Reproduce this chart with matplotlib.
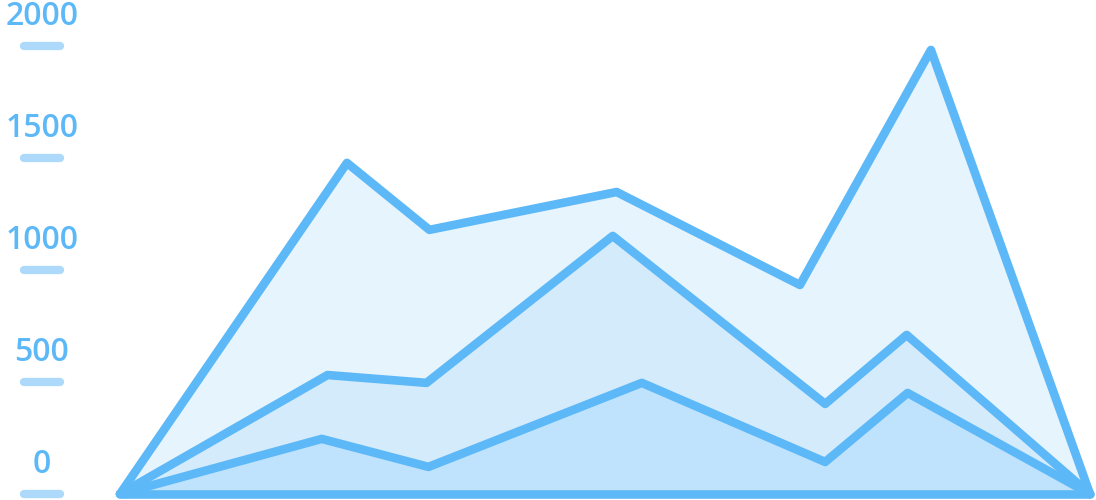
import matplotlib.pyplot as plt

# ------------------- data -------------------
outer_x = [0, 23.4, 31.9, 51.2, 70.1, 83.6, 100]
outer_y = [0, 1478, 1179, 1348, 933, 1982, 0]

middle_x = [0, 21.4, 31.6, 50.8, 72.7, 81.1, 100]
middle_y = [0, 531, 496, 1152, 402, 710, 0]

inner_x = [0, 20.8, 31.8, 53.8, 72.7, 81.2, 100]
inner_y = [0, 246, 121, 496, 143, 451, 0]

y_ticks = [0, 500, 1000, 1500, 2000]

# ------------------- style -------------------
line_color = '#5DB8F8'
fills = ['#E6F4FD', '#D4EBFC', '#BFE3FD']
label_color = '#5DB8F8'
bar_color = '#ADDAFA'

plt.rcParams["font.family"] = ["Open Sans", "DejaVu Sans"]

fig = plt.figure(figsize=(10.96, 5), dpi=100)
ax = fig.add_axes([0, 0, 1, 1])
ax.set_xlim(-12.37, 100.62)
ax.set_ylim(-26.8, 2205)
ax.axis('off')

series = [(outer_x, outer_y), (middle_x, middle_y), (inner_x, inner_y)]
for (xs, ys), fc in zip(series, fills):
    ax.fill_between(xs, ys, 0, color=fc, lw=0, zorder=1)
for xs, ys in series:
    ax.plot(xs, ys, color=line_color, lw=6.2, solid_joinstyle='round',
            solid_capstyle='round', zorder=3)
# baseline
ax.plot([0, 100], [0, 0], color=line_color, lw=6.2, solid_capstyle='round', zorder=3)

# y-axis labels with little bars below them
trans = ax.get_yaxis_transform()
for v in y_ticks:
    ax.plot([0.0219, 0.0547], [v, v], transform=trans, color=bar_color,
            lw=6.0, solid_capstyle='round', clip_on=False)
    ax.annotate(str(v), xy=(0.0383, v), xycoords=trans,
                xytext=(0, 21), textcoords='offset points',
                ha='center', va='center', fontsize=23, fontweight='semibold',
                color=label_color, annotation_clip=False)

plt.savefig('out.png', dpi=100)
